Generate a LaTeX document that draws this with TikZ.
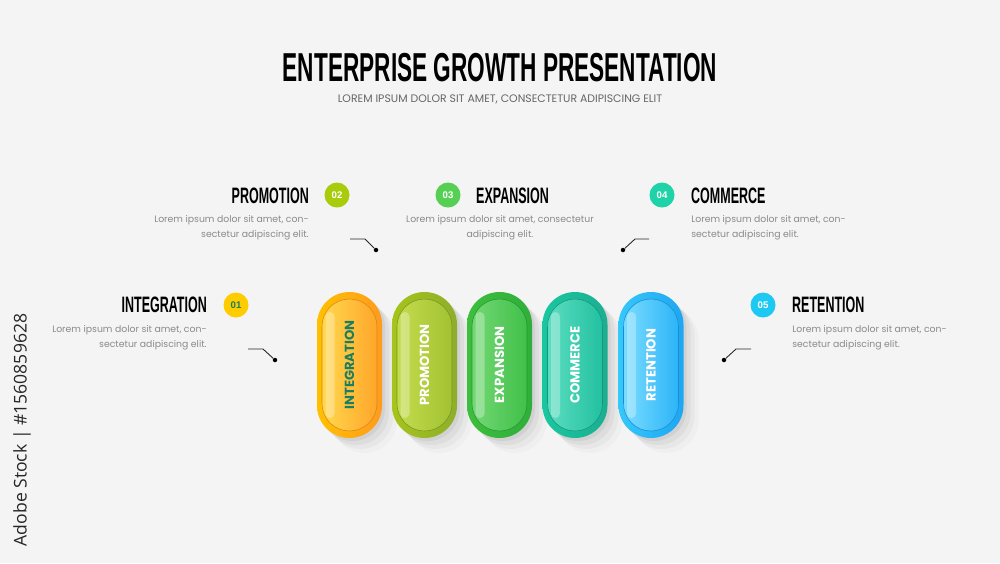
\documentclass[tikz,border=0pt]{standalone}
\usepackage{fontspec}
\setmainfont{Poppins}
\newfontfamily\headfont{Liberation Sans}
\newfontfamily\markfont{Open Sans}
\usetikzlibrary{positioning}

\definecolor{bgc}{HTML}{F4F4F4}
\definecolor{bodygray}{HTML}{8A8A8A}
\definecolor{subgray}{HTML}{666666}
\definecolor{darkgreen}{HTML}{1B7F5F}
% badge colours
\definecolor{b1}{HTML}{FFCC00}
\definecolor{b2}{HTML}{A8CC0A}
\definecolor{b3}{HTML}{55D055}
\definecolor{b4}{HTML}{1DD3A7}
\definecolor{b5}{HTML}{1DC9F2}
% pill colours: outer left/right, inner left/right
\definecolor{p1a}{HTML}{FFC000}\definecolor{p1b}{HTML}{FF9B1E}
\definecolor{p1c}{HTML}{FFD84E}\definecolor{p1d}{HTML}{FFA62A}
\definecolor{p2a}{HTML}{A6C41A}\definecolor{p2b}{HTML}{8EAE2A}
\definecolor{p2c}{HTML}{C4DC4E}\definecolor{p2d}{HTML}{A2C232}
\definecolor{p3a}{HTML}{3DBE3D}\definecolor{p3b}{HTML}{2FAE3A}
\definecolor{p3c}{HTML}{74D874}\definecolor{p3d}{HTML}{40C04A}
\definecolor{p4a}{HTML}{19C7A0}\definecolor{p4b}{HTML}{1BAE90}
\definecolor{p4c}{HTML}{5CDDC0}\definecolor{p4d}{HTML}{22C0A0}
\definecolor{p5a}{HTML}{35C8FA}\definecolor{p5b}{HTML}{1EA6F2}
\definecolor{p5c}{HTML}{7ADCFF}\definecolor{p5d}{HTML}{2CB4F8}

\tikzset{
	titletext/.style = {font=\headfont\bfseries\fontsize{23}{26}\selectfont, xscale=0.56, inner sep=0pt},
	subtext/.style   = {font=\fontsize{6.2}{7.5}\selectfont, text=subgray, inner sep=0pt},
	head/.style      = {font=\headfont\bfseries\fontsize{12.7}{14}\selectfont, xscale=0.56, inner sep=0pt},
	body/.style      = {font=\fontsize{5.3}{8.2}\selectfont, text=bodygray, inner sep=0pt},
	badge/.style     = {
			circle,
			minimum size = 5mm,
			inner sep    = 0pt,
			text         = white,
			font         = \headfont\bfseries\fontsize{5.5}{6}\selectfont,
		},
	dot/.style       = {circle, fill=black, inner sep=0pt, minimum size=0.9mm},
	link/.style      = {draw=black!85, line width=0.5pt},
	pilltext/.style  = {rotate=90, font=\bfseries\fontsize{7.5}{8}\selectfont, inner sep=0pt},
}

\begin{document}
\begin{tikzpicture}[x=0.2mm,y=-0.2mm]
	\fill[bgc] (0,0) rectangle (1000,563);

	\node[titletext] at (500,67.5) (title) {ENTERPRISE GROWTH PRESENTATION};
	\node[subtext] at (500,99.5) (subtitle) {LOREM IPSUM DOLOR SIT AMET, CONSECTETUR ADIPISCING ELIT};

	\node[rotate=90, font=\markfont\fontsize{10}{12}\selectfont, text=black!85] at (22,430) (mark) {Adobe Stock | \#1560859628};

	% shadows of the pills
	\foreach \cx in {349.5,424.5,499.5,575,651}
	\foreach \d/\op in {3/0.05,7/0.04,11/0.03,15/0.02}
	\fill[black, opacity=\op, rounded corners=6.49mm] (\cx-32.5+\d,292+\d) rectangle (\cx+32.5+\d,438+\d);

	% pills
	\foreach \cx/\oa/\ob/\ia/\ib in {349.5/p1a/p1b/p1c/p1d, 424.5/p2a/p2b/p2c/p2d, 499.5/p3a/p3b/p3c/p3d, 575/p4a/p4b/p4c/p4d, 651/p5a/p5b/p5c/p5d}{
		\shade[left color=\oa, right color=\ob, rounded corners=6.49mm] (\cx-32.5,292) rectangle (\cx+32.5,438);
		\shade[left color=\ia, right color=\ib, draw=\ob!85!black, line width=0.3pt, rounded corners=5.49mm] (\cx-27.5,299) rectangle (\cx+27.5,431);
		\fill[white, opacity=0.3, rounded corners=0.89mm] (\cx-24,312) rectangle (\cx-15,418);
	}

	\node[pilltext, text=darkgreen] at (349.5,365) (lab1) {INTEGRATION};
	\node[pilltext, text=white] at (424.5,365) (lab2) {PROMOTION};
	\node[pilltext, text=white] at (499.5,365) (lab3) {EXPANSION};
	\node[pilltext, text=white] at (575,365) (lab4) {COMMERCE};
	\node[pilltext, text=white] at (651,365) (lab5) {RETENTION};

	% 01 integration
	\node[head, anchor=east] at (207,305) (head1) {INTEGRATION};
	\node[badge, fill=b1, text=darkgreen] at (236,305) (num1) {01};
	\node[body, anchor=east, align=right] at (207,337.5) (text1) {Lorem ipsum dolor sit amet, con-\\sectetur adipiscing elit.};
	\coordinate (s1) at (248,349);
	\coordinate (k1) at (263,349);
	\node[dot] at (275,360) (dot1) {};
	\draw[link] (s1) -- (k1) -- (dot1);

	% 02 promotion
	\node[head, anchor=east] at (309,195.5) (head2) {PROMOTION};
	\node[badge, fill=b2] at (337,195) (num2) {02};
	\node[body, anchor=east, align=right] at (309,227.5) (text2) {Lorem ipsum dolor sit amet, con-\\sectetur adipiscing elit.};
	\coordinate (s2) at (350,239);
	\coordinate (k2) at (365,239);
	\node[dot] at (376,250) (dot2) {};
	\draw[link] (s2) -- (k2) -- (dot2);

	% 03 expansion
	\node[badge, fill=b3] at (448,195) (num3) {03};
	\node[head, anchor=west] at (476,195.5) (head3) {EXPANSION};
	\node[body, align=center] at (500,227.5) (text3) {Lorem ipsum dolor sit amet, consectetur\\adipiscing elit.};

	% 04 commerce
	\node[badge, fill=b4] at (662,195) (num4) {04};
	\node[head, anchor=west] at (691,195.5) (head4) {COMMERCE};
	\node[body, anchor=west, align=left] at (691,227.5) (text4) {Lorem ipsum dolor sit amet, con-\\sectetur adipiscing elit.};
	\coordinate (s4) at (649,239);
	\coordinate (k4) at (635,239);
	\node[dot] at (623,250) (dot4) {};
	\draw[link] (s4) -- (k4) -- (dot4);

	% 05 retention
	\node[badge, fill=b5] at (763,305) (num5) {05};
	\node[head, anchor=west] at (792,305) (head5) {RETENTION};
	\node[body, anchor=west, align=left] at (792,337.5) (text5) {Lorem ipsum dolor sit amet, con-\\sectetur adipiscing elit.};
	\coordinate (s5) at (751,349);
	\coordinate (k5) at (736,349);
	\node[dot] at (724,360) (dot5) {};
	\draw[link] (s5) -- (k5) -- (dot5);
\end{tikzpicture}
\end{document}
